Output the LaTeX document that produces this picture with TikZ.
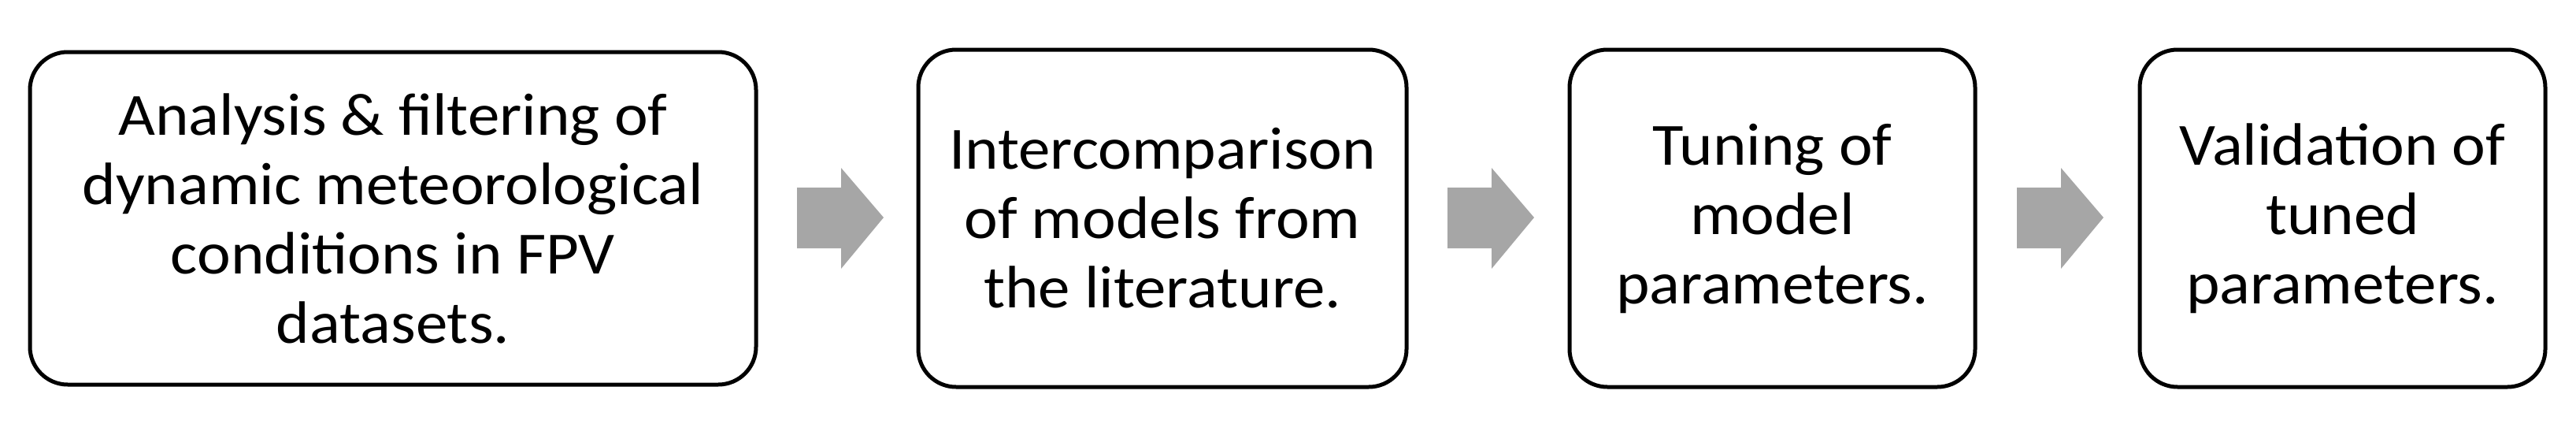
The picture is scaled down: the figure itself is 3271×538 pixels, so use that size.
\documentclass[tikz,border=0pt]{standalone}
\usepackage{fontspec}
\setmainfont{Carlito}[FakeStretch=1.065]
\usetikzlibrary{calc}
\definecolor{arrowgray}{HTML}{A6A6A6}
\tikzset{
  stepbox/.style={draw=black, line width=5pt, rounded corners=48pt, fill=white,
    align=center, inner sep=0pt, font=\fontsize{76}{88}\selectfont},
  blockarrow/.style={fill=arrowgray, draw=none}
}
\newcommand{\grayarrow}[1]{%
  \fill[blockarrow] (#1) ++(0,-38) -- ++(56,0) -- ++(0,-25) -- ++(54,63) -- ++(-54,65) -- ++(0,-26) -- ++(-56,0) -- cycle;}
\begin{document}
\begin{tikzpicture}[x=1pt,y=-1pt]
\useasboundingbox (0,0) rectangle (3271,538);
\node[stepbox, minimum width=922pt, minimum height=422pt] (b1) at (499,277)
  {Analysis \& filtering of\\dynamic meteorological\\conditions in FPV\\datasets.};
\node[stepbox, minimum width=620pt, minimum height=428pt] (b2) at (1476,277)
  {Intercomparison\\of models from\\the literature.};
\node[stepbox, minimum width=515pt, minimum height=428pt] (b3) at (2250.5,277)
  {Tuning of\\model\\parameters.};
\node[stepbox, minimum width=515pt, minimum height=428pt] (b4) at (2974.5,277)
  {Validation of\\tuned\\parameters.};
\coordinate (a1) at (1012,276);
\coordinate (a2) at (1838,276);
\coordinate (a3) at (2561,276);
\grayarrow{a1}
\grayarrow{a2}
\grayarrow{a3}
\end{tikzpicture}
\end{document}
